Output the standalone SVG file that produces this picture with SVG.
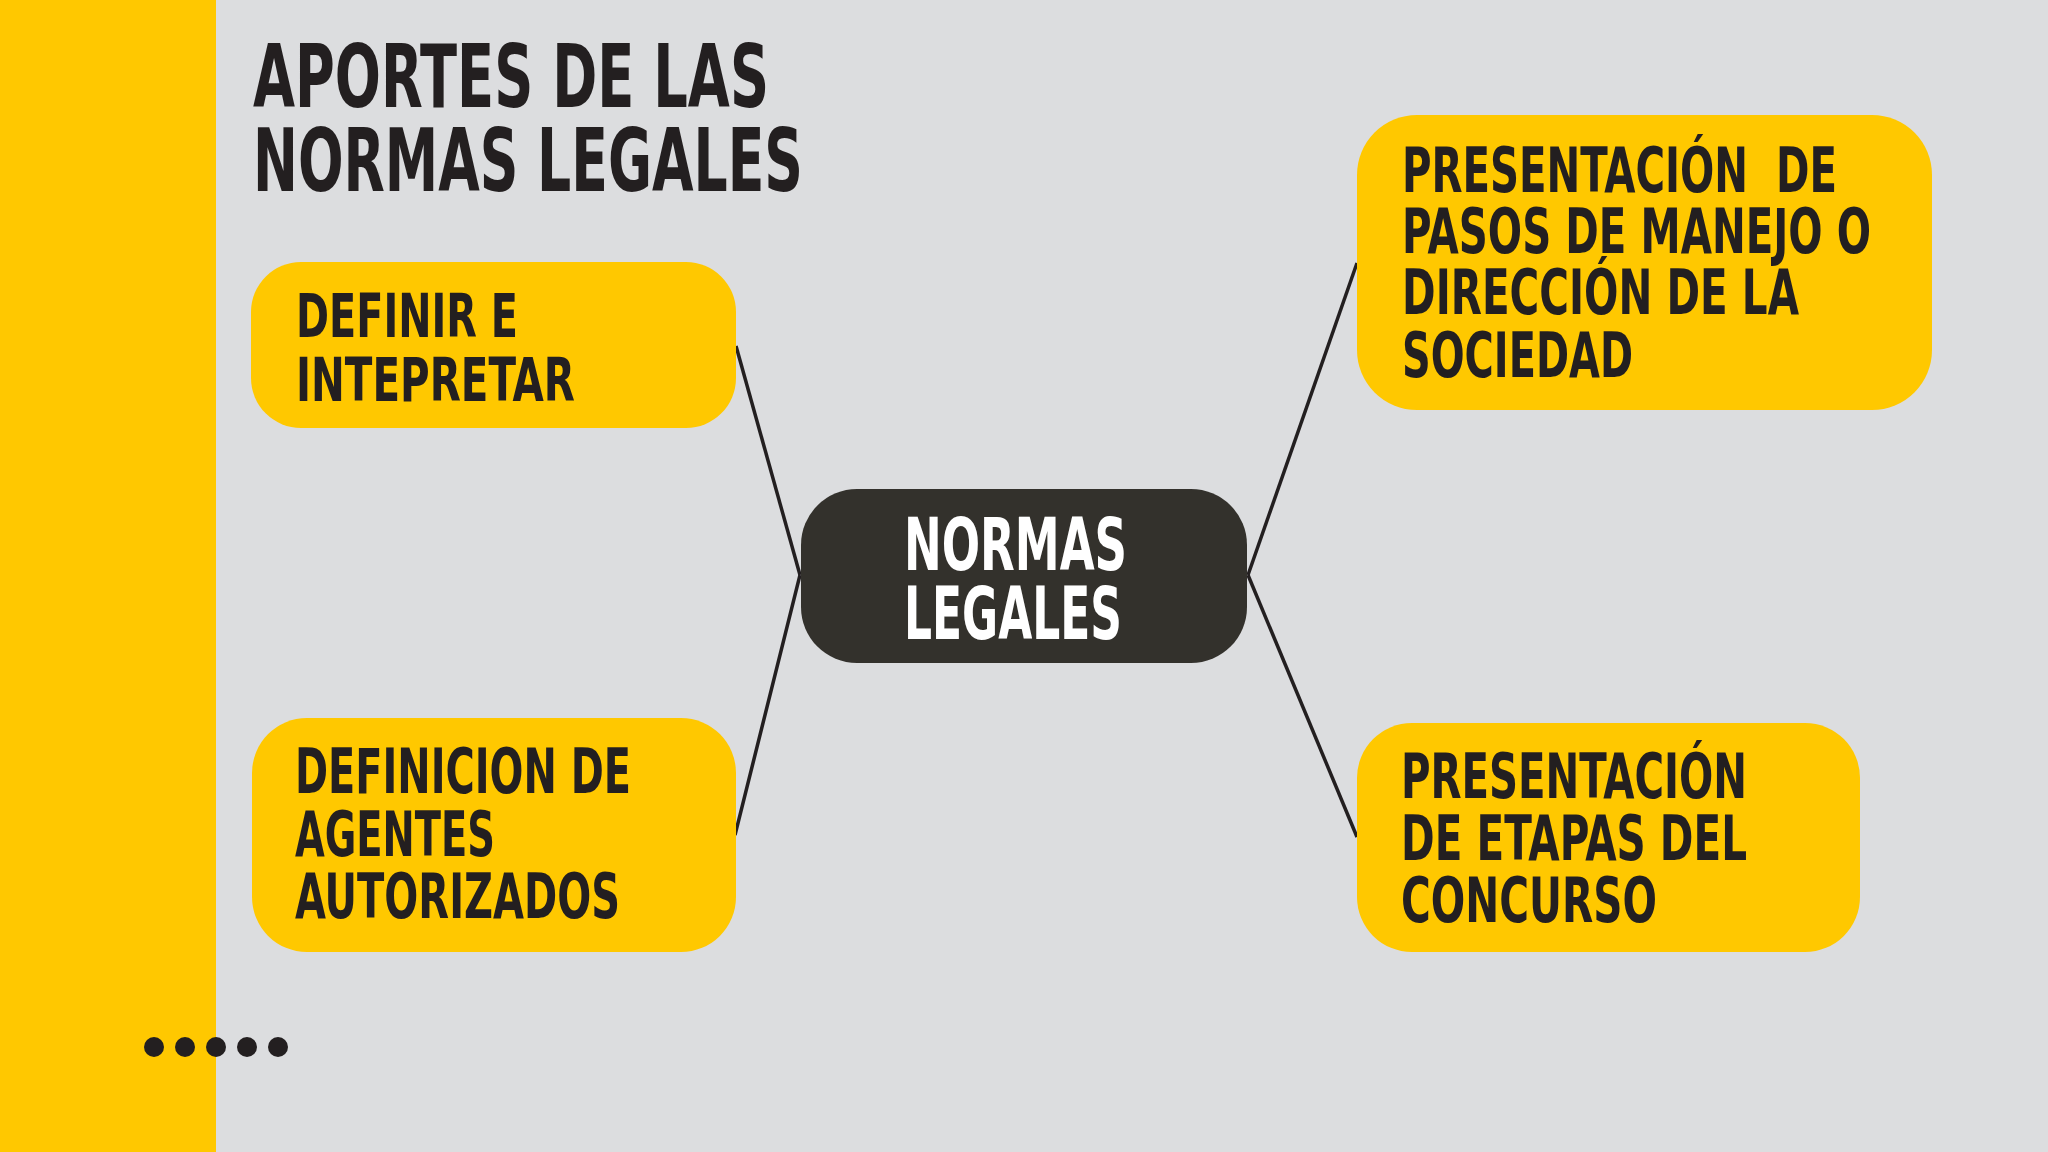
<svg xmlns="http://www.w3.org/2000/svg" width="2048" height="1152" viewBox="0 0 2048 1152">
<style>
.t{font-family:"DejaVu Sans Condensed","DejaVu Sans","Liberation Sans",sans-serif;font-stretch:condensed;font-weight:bold;fill:#231f20}
.w{fill:#ffffff}
.box{fill:#ffc800}
.dark{fill:#33312c}
.ln{stroke:#231f20;stroke-width:3.5;fill:none}
.dot{fill:#231f20}
</style>
<rect x="0" y="0" width="2048" height="1152" fill="#dcdddf"/>
<rect x="0" y="0" width="216" height="1152" fill="#ffc800"/>
<g id="title">
<text class="t" x="253" y="107" font-size="88" textLength="516" lengthAdjust="spacingAndGlyphs">APORTES DE LAS</text>
<text class="t" x="253" y="191" font-size="88" textLength="550" lengthAdjust="spacingAndGlyphs">NORMAS LEGALES</text>
</g>
<g id="connectors">
<line class="ln" x1="736" y1="346" x2="800" y2="575"/>
<line class="ln" x1="735" y1="835" x2="800" y2="575"/>
<line class="ln" x1="1357" y1="263" x2="1248" y2="575"/>
<line class="ln" x1="1357" y1="837" x2="1248" y2="575"/>
</g>
<g id="center">
<rect class="dark" x="801" y="489" width="446" height="174" rx="56"/>
<text class="t w" x="904" y="570" font-size="73" textLength="223" lengthAdjust="spacingAndGlyphs">NORMAS</text>
<text class="t w" x="904" y="639" font-size="73" textLength="218" lengthAdjust="spacingAndGlyphs">LEGALES</text>
</g>
<g id="n1">
<rect class="box" x="251" y="262" width="485" height="166" rx="50"/>
<text class="t" x="296" y="337" font-size="61" textLength="222" lengthAdjust="spacingAndGlyphs">DEFINIR E</text>
<text class="t" x="296" y="401" font-size="61" textLength="279" lengthAdjust="spacingAndGlyphs">INTEPRETAR</text>
</g>
<g id="n2">
<rect class="box" x="1357" y="115" width="575" height="295" rx="60"/>
<text class="t" x="1402" y="192" font-size="62" textLength="435" lengthAdjust="spacingAndGlyphs" xml:space="preserve">PRESENTACIÓN  DE</text>
<text class="t" x="1402" y="253" font-size="62" textLength="469" lengthAdjust="spacingAndGlyphs">PASOS DE MANEJO O</text>
<text class="t" x="1402" y="314" font-size="62" textLength="397" lengthAdjust="spacingAndGlyphs">DIRECCIÓN DE LA</text>
<text class="t" x="1402" y="377" font-size="62" textLength="231" lengthAdjust="spacingAndGlyphs">SOCIEDAD</text>
</g>
<g id="n3">
<rect class="box" x="252" y="718" width="484" height="234" rx="55"/>
<text class="t" x="295" y="793" font-size="62" textLength="336" lengthAdjust="spacingAndGlyphs">DEFINICION DE</text>
<text class="t" x="295" y="856" font-size="62" textLength="200" lengthAdjust="spacingAndGlyphs">AGENTES</text>
<text class="t" x="295" y="918" font-size="62" textLength="325" lengthAdjust="spacingAndGlyphs">AUTORIZADOS</text>
</g>
<g id="n4">
<rect class="box" x="1357" y="723" width="503" height="229" rx="55"/>
<text class="t" x="1401" y="798" font-size="62" textLength="346" lengthAdjust="spacingAndGlyphs">PRESENTACIÓN</text>
<text class="t" x="1401" y="860" font-size="62" textLength="346" lengthAdjust="spacingAndGlyphs">DE ETAPAS DEL</text>
<text class="t" x="1401" y="922" font-size="62" textLength="256" lengthAdjust="spacingAndGlyphs">CONCURSO</text>
</g>
<g id="dots">
<circle class="dot" cx="154" cy="1047" r="10"/>
<circle class="dot" cx="185" cy="1047" r="10"/>
<circle class="dot" cx="216" cy="1047" r="10"/>
<circle class="dot" cx="247" cy="1047" r="10"/>
<circle class="dot" cx="278" cy="1047" r="10"/>
</g>
</svg>
